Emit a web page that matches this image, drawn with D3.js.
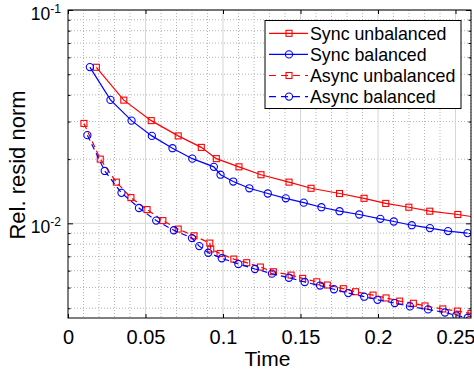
<!DOCTYPE html>
<html>
<head>
<meta charset="utf-8">
<script src="https://cdn.jsdelivr.net/npm/d3@7"></script>
<style>
body { margin: 0; background: #fff; }
svg { display: block; font-family: "Liberation Sans", Arial, sans-serif; }
</style>
</head>
<body>
<div id="chart"></div>
<script>
// values: time (x) vs relative residual norm (y)
var syncUnbalancedT = [0.0183, 0.0360, 0.0537, 0.0711, 0.0860, 0.0957, 0.1103, 0.1245, 0.1426, 0.1568, 0.1752, 0.1910, 0.2050, 0.2199, 0.2334, 0.2515, 0.2700];
var syncUnbalancedV = [0.0539, 0.0378, 0.0303, 0.0257, 0.0227, 0.0201, 0.0184, 0.0169, 0.0156, 0.0146, 0.0138, 0.0131, 0.0124, 0.0119, 0.0114, 0.0110, 0.0105];

var syncBalancedT = [0.0141, 0.0274, 0.0410, 0.0541, 0.0674, 0.0802, 0.0941, 0.0984, 0.1066, 0.1170, 0.1289, 0.1405, 0.1521, 0.1635, 0.1752, 0.1879, 0.2015, 0.2102, 0.2218, 0.2335, 0.2452, 0.2577];
var syncBalancedV = [0.0540, 0.0379, 0.0303, 0.0257, 0.0225, 0.0201, 0.0184, 0.0169, 0.0157, 0.0146, 0.0138, 0.0131, 0.0125, 0.0119, 0.0114, 0.0110, 0.0105, 0.0102, 0.0098, 0.0095, 0.0092, 0.0090];

var asyncUnbalancedT = [0.0103, 0.0208, 0.0312, 0.0406, 0.0510, 0.0612, 0.0711, 0.0813, 0.0915, 0.0921, 0.0981, 0.1070, 0.1153, 0.1241, 0.1325, 0.1439, 0.1514, 0.1605, 0.1673, 0.1776, 0.1855, 0.1968, 0.2052, 0.2140, 0.2228, 0.2303, 0.2418, 0.2512, 0.2600];
var asyncUnbalancedV = [0.0294, 0.0200, 0.0156, 0.0132, 0.0116, 0.0103, 0.0094, 0.00874, 0.00808, 0.00758, 0.00722, 0.0068, 0.00654, 0.00624, 0.00593, 0.00572, 0.00552, 0.00532, 0.00514, 0.00494, 0.00478, 0.00461, 0.00447, 0.00432, 0.00422, 0.0041, 0.00397, 0.00388, 0.00378];

var asyncBalancedT = [0.0125, 0.0237, 0.0345, 0.0458, 0.0569, 0.0683, 0.0800, 0.0847, 0.0905, 0.0992, 0.1099, 0.1206, 0.1316, 0.1425, 0.1527, 0.1626, 0.1716, 0.1808, 0.1911, 0.1997, 0.2108, 0.2206, 0.2323, 0.2432, 0.2505, 0.2579];
var asyncBalancedV = [0.0259, 0.0176, 0.0139, 0.0118, 0.0103, 0.00928, 0.00853, 0.00782, 0.00728, 0.00686, 0.00645, 0.00611, 0.00581, 0.00556, 0.00531, 0.00511, 0.00491, 0.00471, 0.00453, 0.00438, 0.00423, 0.00408, 0.00395, 0.00382, 0.0037, 0.00361];

var seriesNames = ["Sync unbalanced", "Sync balanced", "Async unbalanced", "Async balanced"];

var xTicks = [0, 0.05, 0.1, 0.15, 0.2, 0.25];
var xTickLabels = ["0", "0.05", "0.1", "0.15", "0.2", "0.25"];
var yTicks = [0.1, 0.01];
var yTickExps = ["-1", "-2"];
var xDomain = [0, 0.26];
var yDomain = [0.0036, 0.1];

var margin = { top: 10, right: 3, bottom: 53, left: 68 },
    width = 474 - margin.left - margin.right,
    height = 371 - margin.top - margin.bottom;

var zip = function (ts, vs) {
  return ts.map(function (t, i) { return { t: t, v: vs[i] }; });
};

var series = [
  { name: seriesNames[0], data: zip(syncUnbalancedT, syncUnbalancedV), color: "#f00", marker: "square", dash: null },
  { name: seriesNames[1], data: zip(syncBalancedT, syncBalancedV), color: "#00f", marker: "circle", dash: null },
  { name: seriesNames[2], data: zip(asyncUnbalancedT, asyncUnbalancedV), color: "#f00", marker: "square", dash: "6,4" },
  { name: seriesNames[3], data: zip(asyncBalancedT, asyncBalancedV), color: "#00f", marker: "circle", dash: "6,4" }
];

var svg = d3.select("#chart").append("svg")
  .attr("width", 474).attr("height", 371);
var g = svg.append("g").attr("transform", "translate(" + margin.left + "," + margin.top + ")");

var x = d3.scaleLinear().domain(xDomain).range([0, width]);
var y = d3.scaleLog().domain(yDomain).range([height, 0]);

// minor positions for grid / small ticks
function notMajor(d) { return Math.abs(d * 20 - Math.round(d * 20)) > 1e-6; }
var xMinor = d3.range(1, 27).map(function (i) { return i / 100; })
  .filter(function (d) { return notMajor(d) && d <= xDomain[1]; });
var yMinor = [];
[0.001, 0.01].forEach(function (base) {
  for (var k = 2; k <= 9; k++) {
    var v = k * base;
    if (v >= yDomain[0] && v <= yDomain[1]) yMinor.push(v);
  }
});

// grid
var grid = g.append("g");
grid.selectAll(".xminor").data(xMinor).enter().append("line")
  .attr("x1", function (d) { return x(d); }).attr("x2", function (d) { return x(d); })
  .attr("y1", 0).attr("y2", height)
  .attr("stroke", "#b4b4b4").attr("stroke-width", 1).attr("stroke-dasharray", "1,2");
grid.selectAll(".yminor").data(yMinor).enter().append("line")
  .attr("y1", function (d) { return y(d); }).attr("y2", function (d) { return y(d); })
  .attr("x1", 0).attr("x2", width)
  .attr("stroke", "#b4b4b4").attr("stroke-width", 1).attr("stroke-dasharray", "1,2");
grid.selectAll(".xmajor").data(xTicks.slice(1)).enter().append("line")
  .attr("x1", function (d) { return x(d); }).attr("x2", function (d) { return x(d); })
  .attr("y1", 0).attr("y2", height)
  .attr("stroke", "#d6d6d6").attr("stroke-width", 1);
grid.selectAll(".ymajor").data(yTicks).enter().append("line")
  .attr("y1", function (d) { return y(d); }).attr("y2", function (d) { return y(d); })
  .attr("x1", 0).attr("x2", width)
  .attr("stroke", "#d6d6d6").attr("stroke-width", 1);

// series, clipped to the axes box
g.append("clipPath").attr("id", "clip").append("rect")
  .attr("x", 0).attr("y", 0).attr("width", width).attr("height", height);
var plot = g.append("g").attr("clip-path", "url(#clip)");

var line = d3.line()
  .x(function (d) { return x(d.t); })
  .y(function (d) { return y(d.v); });

var drawMarker = function (sel, s) {
  if (s.marker === "square") {
    sel.append("rect").attr("x", -3).attr("y", -3).attr("width", 6).attr("height", 6)
      .attr("fill", "none").attr("stroke", s.color).attr("stroke-width", 1.1);
  } else {
    sel.append("circle").attr("r", 3.6)
      .attr("fill", "none").attr("stroke", s.color).attr("stroke-width", 1.1);
  }
};

series.forEach(function (s) {
  plot.append("path").datum(s.data)
    .attr("d", line)
    .attr("fill", "none").attr("stroke", s.color).attr("stroke-width", 1.2)
    .attr("stroke-dasharray", s.dash);
  plot.selectAll(null).data(s.data).enter().append("g")
    .attr("transform", function (d) { return "translate(" + x(d.t) + "," + y(d.v) + ")"; })
    .each(function () { drawMarker(d3.select(this), s); });
});

// axes
var axB = g.append("g").attr("transform", "translate(0," + height + ")")
  .call(d3.axisBottom(x).tickValues(xTicks).tickSizeInner(-4).tickSizeOuter(0).tickPadding(12)
    .tickFormat(function (d, i) { return xTickLabels[i]; }));
var axT = g.append("g")
  .call(d3.axisTop(x).tickValues(xTicks).tickSizeInner(-4).tickSizeOuter(0).tickFormat(""));
var axL = g.append("g")
  .call(d3.axisLeft(y).tickValues(yTicks).tickSizeInner(-5).tickSizeOuter(0).tickFormat(""));
var axL2 = g.append("g")
  .call(d3.axisLeft(y).tickValues(yMinor).tickSizeInner(-2.5).tickSizeOuter(0).tickFormat(""));
var axR = g.append("g").attr("transform", "translate(" + width + ",0)")
  .call(d3.axisRight(y).tickValues(yTicks).tickSizeInner(-5).tickSizeOuter(0).tickFormat(""));
var axR2 = g.append("g").attr("transform", "translate(" + width + ",0)")
  .call(d3.axisRight(y).tickValues(yMinor).tickSizeInner(-2.5).tickSizeOuter(0).tickFormat(""));

[axB, axT, axL, axL2, axR, axR2].forEach(function (a) {
  a.select(".domain").remove();
  a.selectAll(".tick line").attr("stroke", "#000");
});
axB.selectAll(".tick text")
  .attr("font-size", "20px").attr("font-family", "Liberation Sans, Arial, sans-serif").attr("fill", "#000");

g.append("rect").attr("x", 0).attr("y", 0).attr("width", width).attr("height", height)
  .attr("fill", "none").attr("stroke", "#000").attr("stroke-width", 1);

// y tick labels 10^n
yTicks.forEach(function (t, i) {
  var lab = g.append("text")
    .attr("x", -7).attr("y", y(t) + 10)
    .attr("text-anchor", "end").attr("fill", "#000");
  lab.append("tspan").attr("font-size", "17.5px").text("10");
  lab.append("tspan").attr("font-size", "12px").attr("dy", -7).text(yTickExps[i]);
});

// axis labels
svg.append("text")
  .attr("x", margin.left + width / 2 - 2).attr("y", 366)
  .attr("text-anchor", "middle").attr("font-size", "21px").text("Time");
svg.append("text")
  .attr("transform", "rotate(-90)")
  .attr("x", -165).attr("y", 25)
  .attr("text-anchor", "middle").attr("font-size", "22px").text("Rel. resid norm");

// legend
var legend = svg.append("g");
legend.append("rect")
  .attr("x", 265).attr("y", 20.5).attr("width", 196).attr("height", 88)
  .attr("fill", "#fff").attr("stroke", "#000").attr("stroke-width", 1);
series.forEach(function (s, i) {
  var ly = 33.3 + i * 21.1;
  var row = legend.append("g");
  row.append("line")
    .attr("x1", 269).attr("x2", 308).attr("y1", ly).attr("y2", ly)
    .attr("stroke", s.color).attr("stroke-width", 1.2)
    .attr("stroke-dasharray", s.dash ? "7,5" : null);
  drawMarker(row.append("g").attr("transform", "translate(289," + ly + ")"), s);
  row.append("text")
    .attr("x", 310).attr("y", ly + 6.3)
    .attr("font-size", "17.8px").attr("fill", "#000").text(s.name);
});
</script>
</body>
</html>
